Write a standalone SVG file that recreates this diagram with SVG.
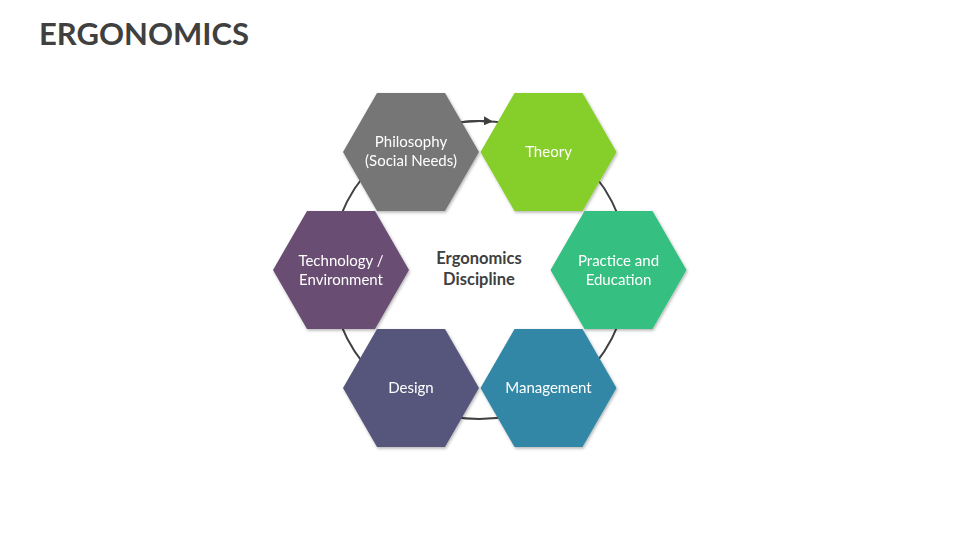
<svg xmlns="http://www.w3.org/2000/svg" width="960" height="540" viewBox="0 0 960 540">
<style>
.lbl{font-family:Lato,"Open Sans","Liberation Sans",sans-serif;font-size:15px;fill:#fff;text-anchor:middle}
.ctr{font-family:Lato,"Open Sans","Liberation Sans",sans-serif;font-size:16.5px;font-weight:bold;fill:#404040;text-anchor:middle}
.title{font-family:Lato,"Open Sans","Liberation Sans",sans-serif;font-size:31px;font-weight:bold;fill:#404040}
.ring{fill:none;stroke:#404040;stroke-width:2}
</style>
<defs>
<polygon id="hex" points="-68,0 -34,-59 34,-59 68,0 34,59 -34,59"/>
<filter id="sh" x="-20%" y="-20%" width="140%" height="140%">
<feDropShadow dx="1" dy="1.5" stdDeviation="1.5" flood-color="#000" flood-opacity="0.3"/>
</filter>
<marker id="arr" viewBox="0 0 10 10" refX="8" refY="5" markerWidth="4.5" markerHeight="4.5" orient="auto">
<path d="M0,0 L10,5 L0,10 z" fill="#404040"/>
</marker>
</defs>
<rect width="960" height="540" fill="#fff"/>
<text class="title" x="39" y="45">ERGONOMICS</text>
<g id="connectors">
<circle class="ring" cx="479.5" cy="270" r="149"/>
<path class="ring" d="M460,122.3 A149,149 0 0 1 491,121.4" marker-end="url(#arr)"/>
</g>
<g id="center"><text class="ctr" x="479" y="264">Ergonomics</text><text class="ctr" x="479" y="285">Discipline</text></g>
<g id="philosophy" filter="url(#sh)"><use href="#hex" x="411" y="152" fill="#767676"/><text class="lbl" x="411" y="147">Philosophy</text><text class="lbl" x="411" y="166">(Social Needs)</text></g>
<g id="theory" filter="url(#sh)"><use href="#hex" x="548.5" y="152" fill="#86CE2A"/><text class="lbl" x="548.5" y="157">Theory</text></g>
<g id="technology" filter="url(#sh)"><use href="#hex" x="341" y="270" fill="#6B4D72"/><text class="lbl" x="341" y="266">Technology /</text><text class="lbl" x="341" y="285">Environment</text></g>
<g id="practice" filter="url(#sh)"><use href="#hex" x="618.5" y="270" fill="#35BF80"/><text class="lbl" x="618.5" y="266">Practice and</text><text class="lbl" x="618.5" y="285">Education</text></g>
<g id="design" filter="url(#sh)"><use href="#hex" x="411" y="388" fill="#57577C"/><text class="lbl" x="411" y="393">Design</text></g>
<g id="management" filter="url(#sh)"><use href="#hex" x="548.5" y="388" fill="#3287A6"/><text class="lbl" x="548.5" y="393">Management</text></g>
</svg>
